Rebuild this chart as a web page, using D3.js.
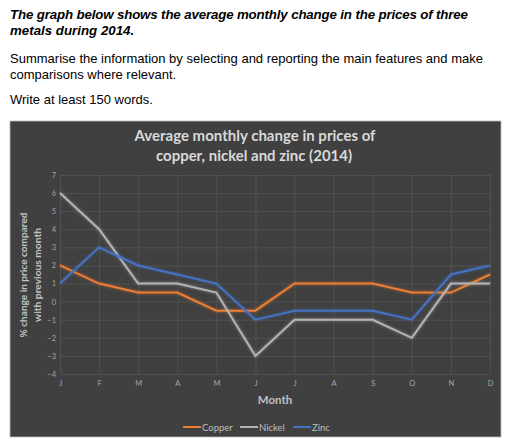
<!DOCTYPE html>
<html><head><meta charset="utf-8">
<script src="https://cdn.jsdelivr.net/npm/d3@7"></script>
<style>body{margin:0;background:#fff}svg{display:block}</style>
</head><body>
<svg id="c" width="512" height="447"></svg>
<script>
const months = ["J","F","M","A","M","J","J","A","S","O","N","D"];
const copper = [2,1,0.5,0.5,-0.5,-0.5,1,1,1,0.5,0.5,1.5];
const nickel = [6,4,1,1,0.5,-3,-1,-1,-1,-2,1,1];
const zinc   = [1,3,2,1.5,1,-1,-0.5,-0.5,-0.5,-1,1.5,2];
const yTicks = [7,6,5,4,3,2,1,0,-1,-2,-3,-4];
const seriesNames = ["Copper","Nickel","Zinc"];
const seriesColors = ["#ed7d31","#b4b4b4","#4472c4"];
const series = [copper, nickel, zinc];

const svg = d3.select("#c");
// Task text
const intro = svg.append("g").attr("font-family","Liberation Sans, Arial, sans-serif").attr("fill","#000");
intro.append("text").attr("x",10).attr("y",19).attr("font-size",13.3).attr("font-weight","bold").attr("font-style","italic")
  .attr("textLength",458).attr("lengthAdjust","spacing")
  .text("The graph below shows the average monthly change in the prices of three");
intro.append("text").attr("x",10).attr("y",35).attr("font-size",13.3).attr("font-weight","bold").attr("font-style","italic")
  .text("metals during 2014.");
intro.append("text").attr("x",10).attr("y",63).attr("font-size",13).attr("textLength",473).attr("lengthAdjust","spacing")
  .text("Summarise the information by selecting and reporting the main features and make");
intro.append("text").attr("x",10).attr("y",79).attr("font-size",13).text("comparisons where relevant.");
intro.append("text").attr("x",10).attr("y",104).attr("font-size",13).text("Write at least 150 words.");

// Panel
svg.append("rect").attr("x",10).attr("y",121).attr("width",491).attr("height",316).attr("fill","#404040").attr("stroke","#b8b8b8").attr("stroke-width",0.8);

const defs = svg.append("defs");
const f = defs.append("filter").attr("id","glow").attr("x","-10%").attr("y","-10%").attr("width","120%").attr("height","120%");
f.append("feGaussianBlur").attr("in","SourceGraphic").attr("stdDeviation",1.6).attr("result","b");
f.append("feComponentTransfer").attr("in","b").attr("result","b2").append("feFuncA").attr("type","linear").attr("slope",0.6);
const m = f.append("feMerge"); m.append("feMergeNode").attr("in","b2"); m.append("feMergeNode").attr("in","SourceGraphic");

const x = d3.scalePoint().domain(d3.range(12)).range([60,490]);
const y = d3.scaleLinear().domain([-4,7]).range([374,175]);

const tf = "Lato, Open Sans, sans-serif";
// title
const title = svg.append("g").attr("font-family",tf).attr("font-weight","bold").attr("fill","#d9d9d9").attr("text-anchor","middle").attr("font-size",15.5);
title.append("text").attr("x",255).attr("y",141).attr("textLength",241).attr("lengthAdjust","spacingAndGlyphs").text("Average monthly change in prices of");
title.append("text").attr("x",254).attr("y",161).attr("textLength",196).attr("lengthAdjust","spacingAndGlyphs").text("copper, nickel and zinc (2014)");

// gridlines
svg.append("g").attr("transform","translate(60,0)")
  .call(d3.axisLeft(y).tickValues(yTicks).tickSize(-(490-60)).tickFormat(""))
  .call(g=>g.select(".domain").remove())
  .call(g=>g.selectAll("line").attr("stroke","#555555").attr("stroke-width",0.8));
svg.append("g").attr("transform","translate(0,374)")
  .call(d3.axisBottom(x).tickSize(-(374-175)).tickFormat(""))
  .call(g=>g.select(".domain").remove())
  .call(g=>g.selectAll("line").attr("stroke","#555555").attr("stroke-width",0.8));

// tick labels
const yAx = svg.append("g").attr("transform","translate(56,0)")
  .call(d3.axisLeft(y).tickValues(yTicks).tickSize(0).tickPadding(0).tickFormat(d3.format("d")));
yAx.select(".domain").remove();
yAx.selectAll("text").attr("fill","#a6a6a6").attr("font-size",7.5).attr("font-family",tf);
const xAx = svg.append("g").attr("transform","translate(0,381)")
  .call(d3.axisBottom(x).tickSize(0).tickPadding(0).tickFormat(i=>months[i]));
xAx.select(".domain").remove();
xAx.selectAll("text").attr("fill","#a6a6a6").attr("font-size",7.5).attr("font-family",tf);

// axis titles
svg.append("text").attr("x",275).attr("y",404).attr("text-anchor","middle").attr("font-family",tf).attr("font-weight","bold")
  .attr("font-size",11.5).attr("fill","#c0c0c0").text("Month");
const yt = svg.append("g").attr("transform","translate(0,275) rotate(-90)").attr("font-family",tf).attr("font-weight","bold")
  .attr("font-size",10).attr("fill","#c0c0c0").attr("text-anchor","middle");
yt.append("text").attr("x",0).attr("y",27).attr("textLength",125).attr("lengthAdjust","spacingAndGlyphs").text("% change in price compared");
yt.append("text").attr("x",0).attr("y",41).attr("textLength",94).attr("lengthAdjust","spacingAndGlyphs").text("with previous month");

// lines
const line = d3.line().x((d,i)=>x(i)).y(d=>y(d));
series.forEach((s,k)=>{
  svg.append("path").datum(s).attr("d",line).attr("fill","none").attr("stroke",seriesColors[k])
    .attr("stroke-width",2).attr("stroke-linejoin","miter").attr("filter","url(#glow)");
});

// legend
const legX = [183,240,293];
const lg = svg.append("g").attr("font-family",tf).attr("font-size",9.5).attr("fill","#bfbfbf");
seriesNames.forEach((n,k)=>{
  lg.append("line").attr("x1",legX[k]).attr("x2",legX[k]+18).attr("y1",427).attr("y2",427).attr("stroke",seriesColors[k]).attr("stroke-width",2);
  lg.append("text").attr("x",legX[k]+19).attr("y",430.5).text(n);
});
</script>
</body></html>
